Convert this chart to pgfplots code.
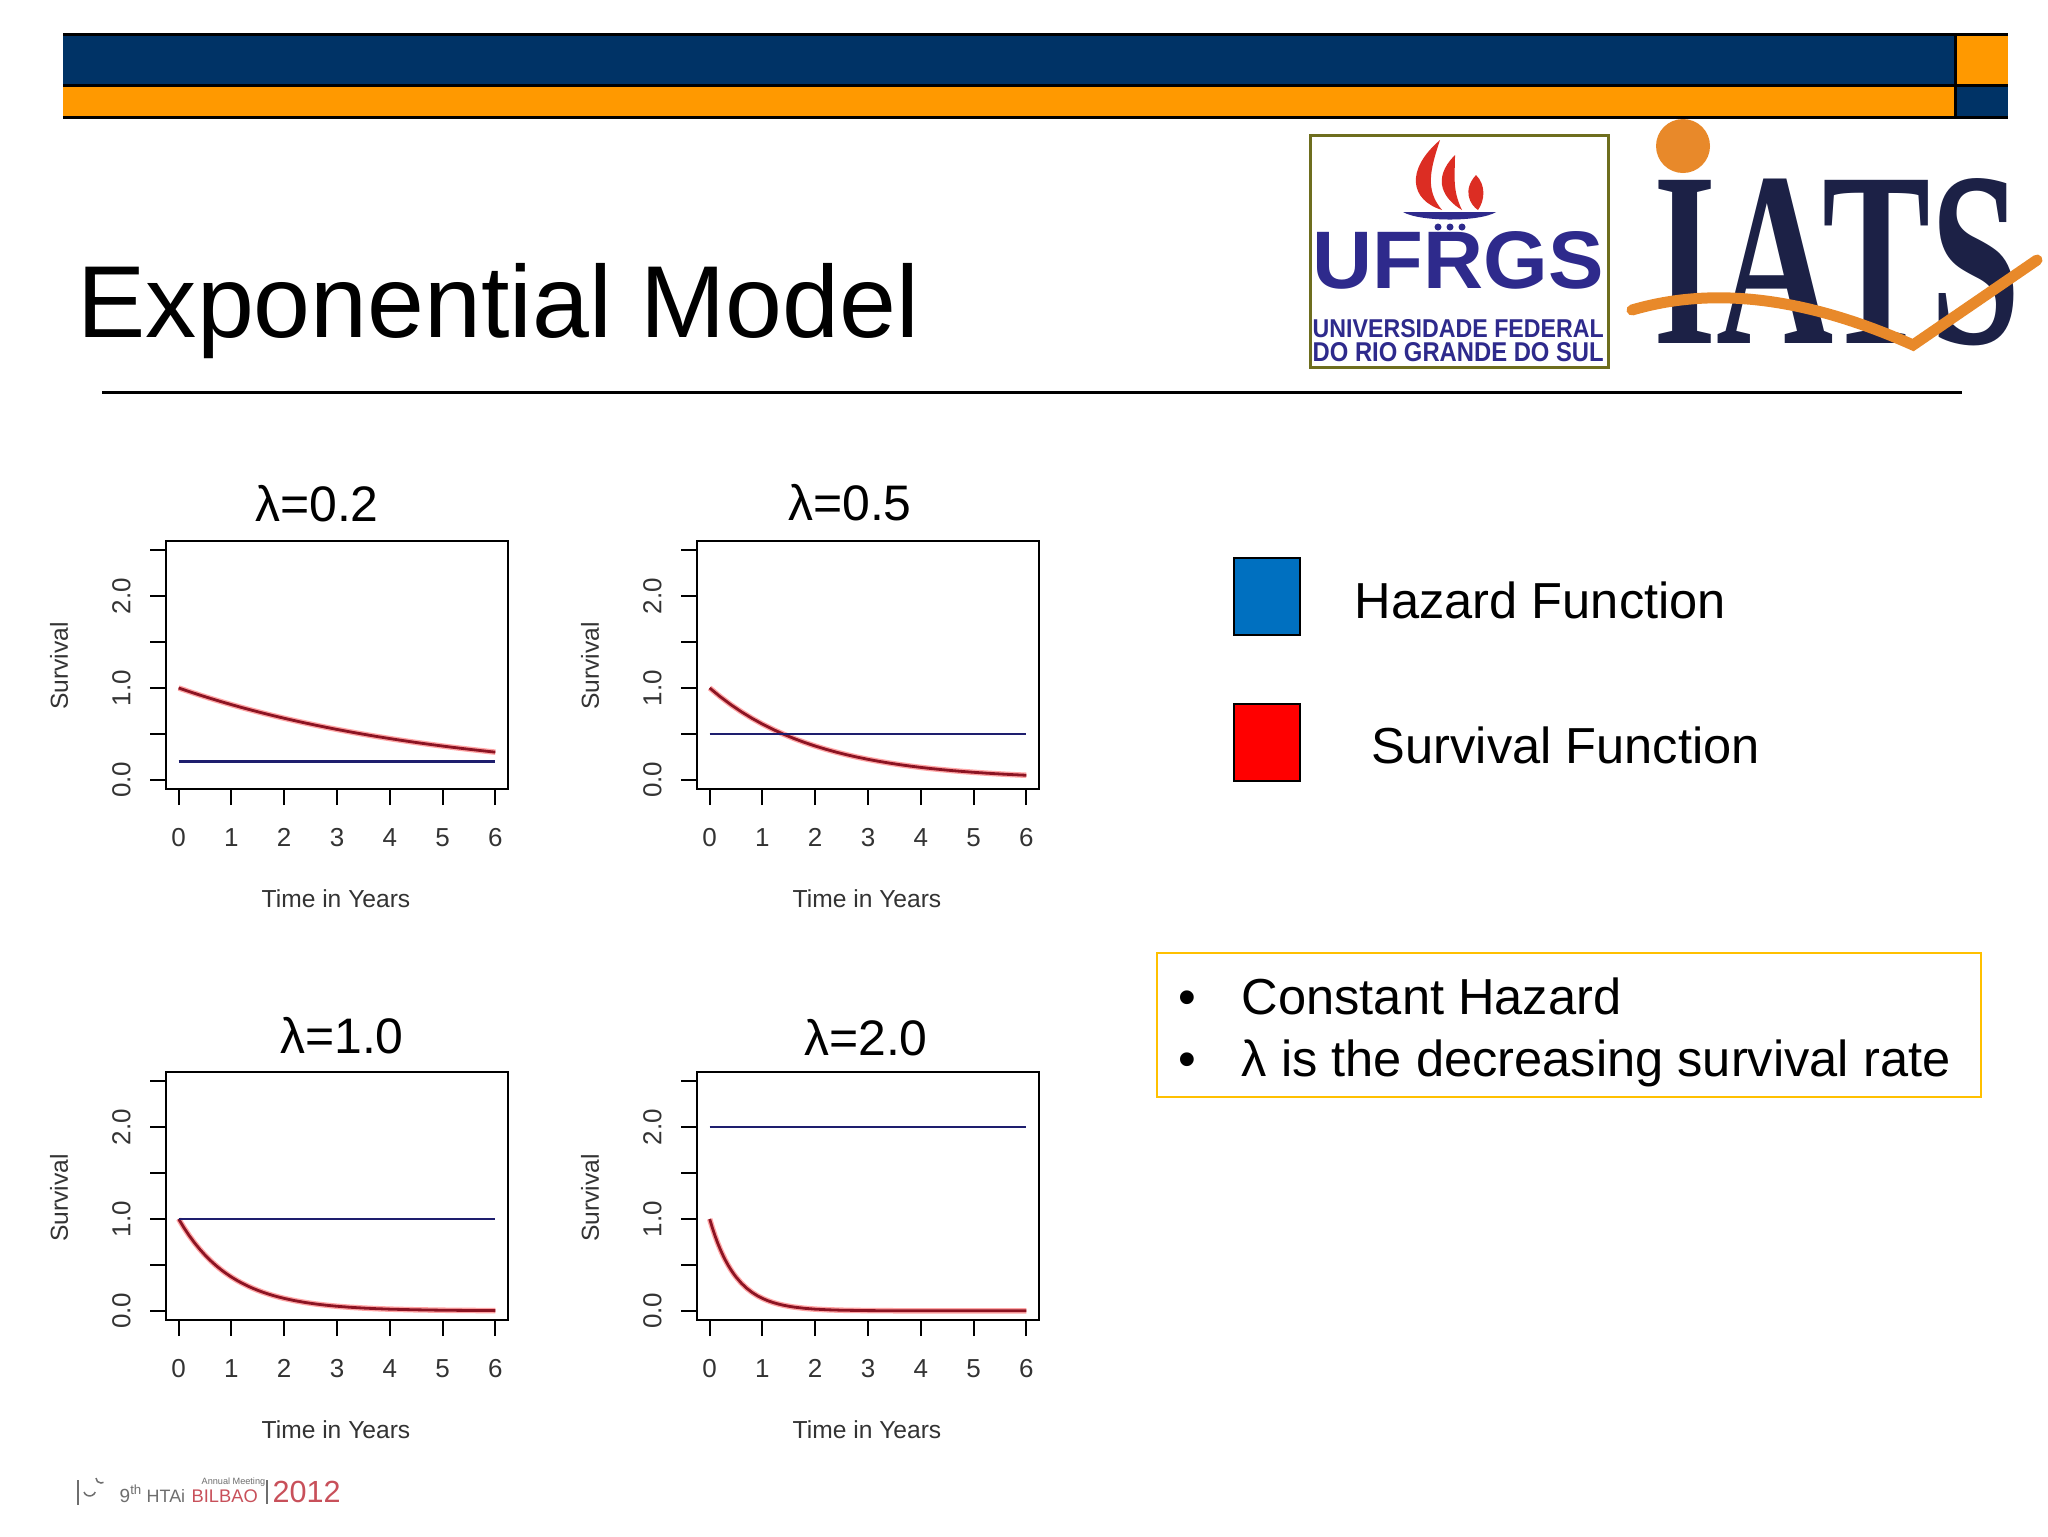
\documentclass[border=0pt]{standalone}
\usepackage{pgfplots}
\pgfplotsset{compat=1.18}
\usepackage{fontspec}
\setmainfont{Liberation Sans}
\newfontfamily\seriffont{Liberation Serif}
\definecolor{hdrnavy}{RGB}{0,51,102}
\definecolor{hdrorange}{RGB}{255,153,0}
\definecolor{hazblue}{RGB}{0,112,192}
\definecolor{curvered}{RGB}{140,20,35}
\definecolor{hazline}{RGB}{30,30,110}
\definecolor{boxgold}{RGB}{255,192,0}
\definecolor{ufnavy}{RGB}{46,42,140}
\definecolor{ufred}{RGB}{220,45,35}
\definecolor{iatsnavy}{RGB}{28,33,70}
\definecolor{iatsorange}{RGB}{232,137,42}
\definecolor{ufolive}{RGB}{110,110,30}
\definecolor{htaigrey}{RGB}{110,110,110}
\definecolor{htaired}{RGB}{200,80,90}

\pgfplotsset{survplot/.style={
  scale only axis, width=34.2mm, height=24.8mm,
  xmin=-0.24, xmax=6.24, ymin=-0.1, ymax=2.6,
  xtick={0,1,2,3,4,5,6}, ytick={0,1,2}, minor ytick={0.5,1.5,2.5},
  tick pos=left, tick align=outside,
  major tick length=1.6mm, minor tick length=1.6mm,
  tick style={black, line width=0.2mm},
  axis line style={line width=0.22mm},
  /pgf/number format/assume math mode=true,
  ticklabel style={font=\fontsize{7.4}{8.5}\selectfont, text=black!80},
  xticklabel style={yshift=-1.1mm},
  yticklabel style={xshift=-0.7mm, rotate=90, anchor=south,
    /pgf/number format/fixed, /pgf/number format/fixed zerofill, /pgf/number format/precision=1},
  anchor=north west,
}}

\begin{document}
\begin{tikzpicture}
\begin{scope}[x=0.1mm,y=-0.1mm]
  % canvas
  \fill[white] (0,0) rectangle (2048,1536);
  % header bars
  \fill[hdrnavy] (63,35) rectangle (1955,85);
  \fill[hdrorange] (63,86) rectangle (1955,116);
  \fill[hdrorange] (1955,35) rectangle (2008,85);
  \fill[hdrnavy] (1955,86) rectangle (2008,116);
  \draw[black, line width=0.3mm] (63,34) -- (2008,34);
  \draw[black, line width=0.3mm] (63,85.5) -- (2008,85.5);
  \draw[black, line width=0.3mm] (63,117) -- (2008,117);
  \draw[black, line width=0.3mm] (1955,34) -- (1955,117);
  % title and rule
  \node[anchor=base west, inner sep=0] at (77,337) {\fontsize{29.1}{34}\selectfont Exponential Model};
  \draw[black, line width=0.3mm] (102,392) -- (1962,392);
  % UFRGS logo
  \draw[ufolive, line width=0.3mm, fill=white] (1310,135) rectangle (1608,367);
  \fill[ufred] (1440,140) .. controls (1405,170) and (1410,200) .. (1442,210)
     .. controls (1425,190) and (1430,170) .. (1440,140);
  \fill[ufred] (1455,155) .. controls (1430,180) and (1445,200) .. (1462,210)
     .. controls (1452,190) and (1455,175) .. (1455,155);
  \fill[ufred] (1476,175) .. controls (1462,190) and (1470,205) .. (1478,210)
     .. controls (1485,200) and (1486,185) .. (1476,175);
  \fill[ufnavy] (1403,212) -- (1496,212) .. controls (1480,222) and (1420,222) .. (1403,212);
  \foreach \dx in {1438,1450,1462} \fill[ufnavy] (\dx,227) circle (0.35mm);
  \node[anchor=south west, inner sep=0] at (1312,290) {\color{ufnavy}\resizebox{29.1mm}{5.7mm}{\bfseries UFRGS}};
  \node[anchor=south west, inner sep=0] at (1312,338) {\color{ufnavy}\resizebox{29.1mm}{1.8mm}{\bfseries UNIVERSIDADE FEDERAL}};
  \node[anchor=south west, inner sep=0] at (1312,362) {\color{ufnavy}\resizebox{29.1mm}{1.9mm}{\bfseries DO RIO GRANDE DO SUL}};
  % IATS logo
  \fill[iatsorange] (1683,146) ellipse (2.7mm and 2.7mm);
  \node[anchor=south west, inner sep=0] at (1653,347) {\color{iatsnavy}\resizebox{36.7mm}{16.5mm}{\seriffont\bfseries IATS}};
  \draw[iatsorange, line width=1.1mm, line cap=round] (1632,310) .. controls (1700,290) and (1790,290) .. (1913,345)
     -- (2037,260);
  % legend
  \fill[hazblue, draw=black, line width=0.2mm] (1234,558) rectangle (1300,635);
  \fill[red, draw=black, line width=0.2mm] (1234,704) rectangle (1300,781);
  \node[anchor=base west, inner sep=0] at (1354,618) {\fontsize{14.4}{17}\selectfont Hazard Function};
  \node[anchor=base west, inner sep=0] at (1371,763) {\fontsize{14.4}{17}\selectfont Survival Function};
  % text box
  \draw[boxgold, line width=0.25mm] (1157,953) rectangle (1981,1097);
  \node[anchor=base, inner sep=0] at (1187,1014) {\fontsize{14.4}{17}\selectfont •};
  \node[anchor=base, inner sep=0] at (1187,1076) {\fontsize{14.4}{17}\selectfont •};
  \node[anchor=base west, inner sep=0] at (1241,1014) {\fontsize{14.4}{17}\selectfont Constant Hazard};
  \node[anchor=base west, inner sep=0] at (1241,1076) {\fontsize{14.4}{17}\selectfont λ is the decreasing survival rate};
  % footer logo
  \draw[htaigrey, line width=0.15mm] (78,1480) -- (78,1505);
  \draw[htaigrey, line width=0.15mm] (84,1492) arc (200:340:0.6mm);
  \draw[htaigrey, line width=0.15mm] (96,1478) arc (180:300:0.5mm);
  \node[anchor=base west, inner sep=0] at (119,1502) {\fontsize{5.4}{6}\selectfont\color{htaigrey}9\textsuperscript{th}};
  \node[anchor=base west, inner sep=0] at (146,1502) {\fontsize{5.1}{6}\selectfont\color{htaigrey}HTAi};
  \node[anchor=base west, inner sep=0] at (191,1502) {\fontsize{5.2}{6}\selectfont\color{htaired}BILBAO};
  \node[anchor=base west, inner sep=0] at (201,1484) {\fontsize{2.6}{3}\selectfont\color{htaigrey}Annual Meeting};
  \draw[htaigrey, line width=0.12mm] (267,1480) -- (267,1504);
  \node[anchor=base west, inner sep=0] at (272,1502) {\fontsize{8.7}{10}\selectfont\color{htaired}2012};
  % plot anchors
  \coordinate (p1) at (166,541);
  \coordinate (p2) at (697,541);
  \coordinate (p3) at (166,1072);
  \coordinate (p4) at (697,1072);
  % titles and labels
  \node[inner sep=0] at (317,504) {\fontsize{14.2}{16}\selectfont λ=0.2};
  \node[inner sep=0] at (850,503) {\fontsize{14.2}{16}\selectfont λ=0.5};
  \node[inner sep=0] at (342,1036) {\fontsize{14.2}{16}\selectfont λ=1.0};
  \node[inner sep=0] at (866,1038) {\fontsize{14.2}{16}\selectfont λ=2.0};
  \foreach \xx/\yy in {336/899, 867/899, 336/1430, 867/1430}
    \node[inner sep=0, text=black!80] at (\xx,\yy) {\fontsize{7}{8}\selectfont Time in Years};
  \foreach \xx/\yy in {59/666, 590/666, 59/1198, 590/1198}
    \node[inner sep=0, rotate=90, text=black!80] at (\xx,\yy) {\fontsize{7}{8}\selectfont Survival};
\end{scope}

% lambda = 0.2
\begin{axis}[survplot, at={(p1)}]
\addplot[hazline, line width=0.25mm] coordinates {(0,0.2) (6,0.2)};
\addplot[red!35, line width=0.55mm] coordinates {
(0,1.0000) (0.2,0.9608) (0.4,0.9231) (0.6,0.8869) (0.8,0.8521) (1.0,0.8187) (1.2,0.7866) (1.4,0.7558) (1.6,0.7261) (1.8,0.6977) (2.0,0.6703) (2.2,0.6440) (2.4,0.6188) (2.6,0.5945) (2.8,0.5712) (3.0,0.5488) (3.2,0.5273) (3.4,0.5066) (3.6,0.4868) (3.8,0.4677) (4.0,0.4493) (4.2,0.4317) (4.4,0.4148) (4.6,0.3985) (4.8,0.3829) (5.0,0.3679) (5.2,0.3535) (5.4,0.3396) (5.6,0.3263) (5.8,0.3135) (6.0,0.3012)};
\addplot[curvered, line width=0.28mm] coordinates {
(0,1.0000) (0.2,0.9608) (0.4,0.9231) (0.6,0.8869) (0.8,0.8521) (1.0,0.8187) (1.2,0.7866) (1.4,0.7558) (1.6,0.7261) (1.8,0.6977) (2.0,0.6703) (2.2,0.6440) (2.4,0.6188) (2.6,0.5945) (2.8,0.5712) (3.0,0.5488) (3.2,0.5273) (3.4,0.5066) (3.6,0.4868) (3.8,0.4677) (4.0,0.4493) (4.2,0.4317) (4.4,0.4148) (4.6,0.3985) (4.8,0.3829) (5.0,0.3679) (5.2,0.3535) (5.4,0.3396) (5.6,0.3263) (5.8,0.3135) (6.0,0.3012)};
\end{axis}

% lambda = 0.5
\begin{axis}[survplot, at={(p2)}]
\addplot[red!35, line width=0.55mm] coordinates {
(0,1.0000) (0.2,0.9048) (0.4,0.8187) (0.6,0.7408) (0.8,0.6703) (1.0,0.6065) (1.2,0.5488) (1.4,0.4966) (1.6,0.4493) (1.8,0.4066) (2.0,0.3679) (2.2,0.3329) (2.4,0.3012) (2.6,0.2725) (2.8,0.2466) (3.0,0.2231) (3.2,0.2019) (3.4,0.1827) (3.6,0.1653) (3.8,0.1496) (4.0,0.1353) (4.2,0.1225) (4.4,0.1108) (4.6,0.1003) (4.8,0.0907) (5.0,0.0821) (5.2,0.0743) (5.4,0.0672) (5.6,0.0608) (5.8,0.0550) (6.0,0.0498)};
\addplot[curvered, line width=0.28mm] coordinates {
(0,1.0000) (0.2,0.9048) (0.4,0.8187) (0.6,0.7408) (0.8,0.6703) (1.0,0.6065) (1.2,0.5488) (1.4,0.4966) (1.6,0.4493) (1.8,0.4066) (2.0,0.3679) (2.2,0.3329) (2.4,0.3012) (2.6,0.2725) (2.8,0.2466) (3.0,0.2231) (3.2,0.2019) (3.4,0.1827) (3.6,0.1653) (3.8,0.1496) (4.0,0.1353) (4.2,0.1225) (4.4,0.1108) (4.6,0.1003) (4.8,0.0907) (5.0,0.0821) (5.2,0.0743) (5.4,0.0672) (5.6,0.0608) (5.8,0.0550) (6.0,0.0498)};
\addplot[hazline, line width=0.25mm] coordinates {(0,0.5) (6,0.5)};
\end{axis}

% lambda = 1.0
\begin{axis}[survplot, at={(p3)}]
\addplot[red!35, line width=0.55mm] coordinates {
(0,1.0000) (0.1,0.9048) (0.2,0.8187) (0.3,0.7408) (0.4,0.6703) (0.5,0.6065) (0.6,0.5488) (0.7,0.4966) (0.8,0.4493) (0.9,0.4066) (1.0,0.3679) (1.1,0.3329) (1.2,0.3012) (1.3,0.2725) (1.4,0.2466) (1.5,0.2231) (1.6,0.2019) (1.7,0.1827) (1.8,0.1653) (1.9,0.1496) (2.0,0.1353) (2.2,0.1108) (2.4,0.0907) (2.6,0.0743) (2.8,0.0608) (3.0,0.0498) (3.25,0.0388) (3.5,0.0302) (3.75,0.0235) (4.0,0.0183) (4.5,0.0111) (5.0,0.0067) (5.5,0.0041) (6.0,0.0025)};
\addplot[curvered, line width=0.28mm] coordinates {
(0,1.0000) (0.1,0.9048) (0.2,0.8187) (0.3,0.7408) (0.4,0.6703) (0.5,0.6065) (0.6,0.5488) (0.7,0.4966) (0.8,0.4493) (0.9,0.4066) (1.0,0.3679) (1.1,0.3329) (1.2,0.3012) (1.3,0.2725) (1.4,0.2466) (1.5,0.2231) (1.6,0.2019) (1.7,0.1827) (1.8,0.1653) (1.9,0.1496) (2.0,0.1353) (2.2,0.1108) (2.4,0.0907) (2.6,0.0743) (2.8,0.0608) (3.0,0.0498) (3.25,0.0388) (3.5,0.0302) (3.75,0.0235) (4.0,0.0183) (4.5,0.0111) (5.0,0.0067) (5.5,0.0041) (6.0,0.0025)};
\addplot[hazline, line width=0.25mm] coordinates {(0,1.0) (6,1.0)};
\end{axis}

% lambda = 2.0
\begin{axis}[survplot, at={(p4)}]
\addplot[hazline, line width=0.25mm] coordinates {(0,2.0) (6,2.0)};
\addplot[red!35, line width=0.55mm] coordinates {
(0,1.0000) (0.05,0.9048) (0.1,0.8187) (0.15,0.7408) (0.2,0.6703) (0.25,0.6065) (0.3,0.5488) (0.35,0.4966) (0.4,0.4493) (0.45,0.4066) (0.5,0.3679) (0.6,0.3012) (0.7,0.2466) (0.8,0.2019) (0.9,0.1653) (1.0,0.1353) (1.1,0.1108) (1.2,0.0907) (1.3,0.0743) (1.4,0.0608) (1.5,0.0498) (1.6,0.0408) (1.8,0.0273) (2.0,0.0183) (2.25,0.0111) (2.5,0.0067) (3.0,0.0025) (3.5,0.0009) (4.0,0.0003) (5.0,0.0000) (6.0,0.0000)};
\addplot[curvered, line width=0.28mm] coordinates {
(0,1.0000) (0.05,0.9048) (0.1,0.8187) (0.15,0.7408) (0.2,0.6703) (0.25,0.6065) (0.3,0.5488) (0.35,0.4966) (0.4,0.4493) (0.45,0.4066) (0.5,0.3679) (0.6,0.3012) (0.7,0.2466) (0.8,0.2019) (0.9,0.1653) (1.0,0.1353) (1.1,0.1108) (1.2,0.0907) (1.3,0.0743) (1.4,0.0608) (1.5,0.0498) (1.6,0.0408) (1.8,0.0273) (2.0,0.0183) (2.25,0.0111) (2.5,0.0067) (3.0,0.0025) (3.5,0.0009) (4.0,0.0003) (5.0,0.0000) (6.0,0.0000)};
\end{axis}
\end{tikzpicture}
\end{document}
